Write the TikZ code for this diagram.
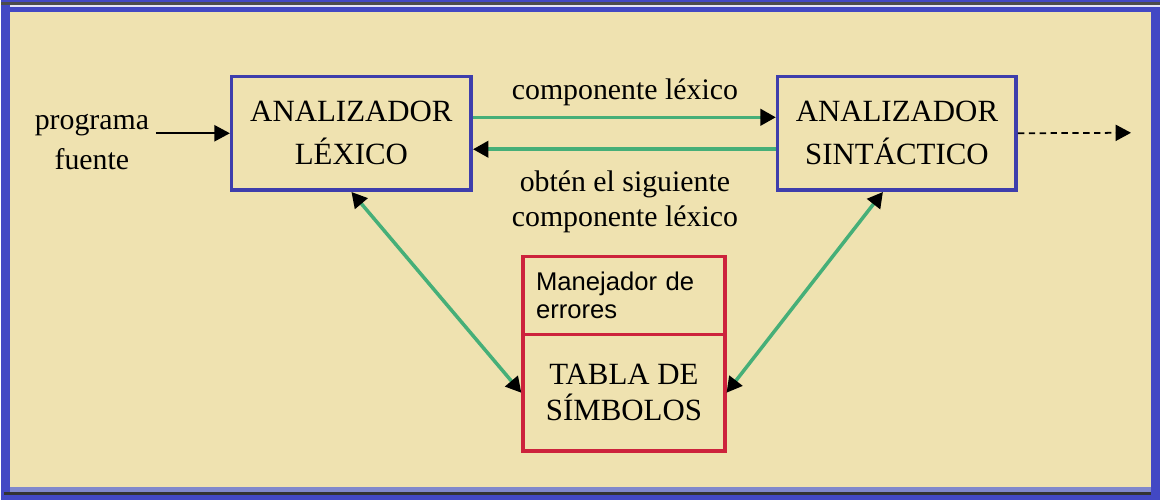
\documentclass[tikz,border=0pt]{standalone}
\usepackage{fontspec}
\setmainfont{Liberation Serif}
\newfontfamily\errfont{Liberation Sans}
\usepackage{tikz}
\usetikzlibrary{arrows.meta}
\usepackage{xcolor}
\definecolor{frameblue}{RGB}{66,72,196}
\definecolor{bandblue}{RGB}{128,136,204}
\definecolor{cream}{RGB}{239,226,176}
\definecolor{boxblue}{RGB}{62,62,172}
\definecolor{boxred}{RGB}{205,35,60}
\definecolor{linkgreen}{RGB}{70,175,120}
\tikzset{
  analizador/.style = {draw = boxblue, line width = 1pt, minimum width = 2.4cm, minimum height = 1.14cm, align = center, inner sep = 0pt, font = \fontsize{8.8}{12.2}\selectfont},
  tablabox/.style = {draw = boxred, line width = 1pt, minimum width = 2.02cm, inner sep = 0pt},
  etiqueta/.style = {align = center, font = \fontsize{8.5}{10}\selectfont},
  flujo/.style = {-{Triangle[length=4.4pt, width=4.6pt]}, line width = 0.5pt},
  enlace/.style = {-{Triangle[length=4.4pt, width=4.6pt, color=black]}, draw = linkgreen, line width = 1pt},
  enlacedoble/.style = {{Triangle[length=4.4pt, width=4.6pt, color=black]}-{Triangle[length=4.4pt, width=4.6pt, color=black]}, draw = linkgreen, line width = 1pt}
}

\begin{document}
\begin{tikzpicture}
% marco
\fill[frameblue] (0, 0) rectangle (11.61, 5.01) ;
\fill[cream] (0.09, 0.13) rectangle (11.52, 4.89) ;
\fill[bandblue] (0.09, 0.08) rectangle (11.52, 0.13) ;
\draw[black!80, line width = 0.8pt] (0.03, 0.065) -- (11.52, 0.065) ;
\draw[black!70, line width = 0.6pt] (0, 4.975) -- (11.61, 4.975) ;
\draw[white!85!frameblue, line width = 0.6pt] (0.09, 4.95) -- (11.61, 4.95) ;
\useasboundingbox (0, 0) rectangle (11.61, 5.01) ;

\node(fuente) at (0.91, 3.59) [etiqueta, font = \fontsize{8.5}{11.4}\selectfont] {programa\\fuente} ;
\node(lexico) at (3.51, 3.675) [analizador] {ANALIZADOR\\LÉXICO} ;
\node(sintactico) at (8.975, 3.675) [analizador, minimum width = 2.39cm] {ANALIZADOR\\SINTÁCTICO} ;
\node(errores) at (6.24, 2.05) [tablabox, minimum height = 0.78cm, align = left, text width = 1.76cm, font = \errfont\fontsize{7.3}{8}\selectfont] {Manejador de\\errores} ;
\node(tabla) at (6.24, 1.075) [tablabox, minimum height = 1.17cm, align = center, font = \fontsize{8.8}{10.2}\selectfont] {TABLA DE\\SÍMBOLOS} ;
\node(comp) at (6.25, 4.09) [etiqueta] {componente léxico} ;
\node(pide) at (6.25, 2.985) [etiqueta] {obtén el siguiente\\componente léxico} ;
\coordinate(salida) at (11.32, 3.68) ;

\draw[flujo] (1.55, 3.675) to (lexico.west) ;
\draw[enlace] ([yshift = 1.6mm]lexico.east) to ([yshift = 1.6mm]sintactico.west) ;
\draw[enlace] ([yshift = -1.6mm]sintactico.west) to ([yshift = -1.6mm]lexico.east) ;
\draw[flujo, dash pattern = on 1.8pt off 1.3pt] (sintactico.east) to (salida) ;
\draw[enlacedoble] (lexico.south) to (tabla.west) ;
\draw[enlacedoble] ([xshift = -1.4mm]sintactico.south) to (tabla.east) ;
\end{tikzpicture}
\end{document}
